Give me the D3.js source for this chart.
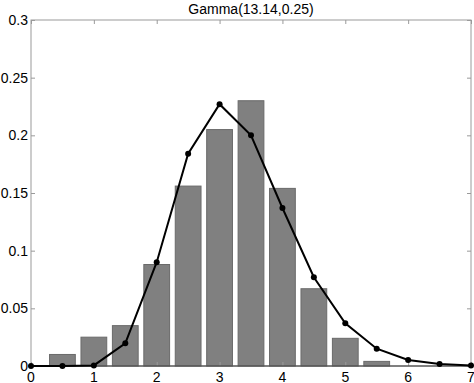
<!DOCTYPE html>
<html lang="en">
<head>
    <meta charset="UTF-8">
    <title>Gamma(13.14,0.25)</title>
    <script src="https://cdnjs.cloudflare.com/ajax/libs/d3/7.8.5/d3.min.js"></script>
    <style>
        body { margin: 0; background: #fff; }
        svg { display: block; font-family: Arial, "Liberation Sans", sans-serif; }
    </style>
</head>
<body>
    <svg id="chart" width="474" height="383"></svg>
    <script>
        // histogram bars (bin centres and heights)
        const barX = [0.5, 1, 1.5, 2, 2.5, 3, 3.5, 4, 4.5, 5, 5.5];
        const barY = [0.010, 0.025, 0.035, 0.088, 0.156, 0.205, 0.230, 0.154, 0.067, 0.024, 0.004];

        // fitted curve points
        const lineX = [0, 0.5, 1, 1.5, 2, 2.5, 3, 3.5, 4, 4.5, 5, 5.5, 6, 6.5, 7];
        const lineY = [0, 0, 0.0005, 0.0197, 0.090, 0.184, 0.227, 0.200, 0.137, 0.077, 0.037, 0.015, 0.0052, 0.0017, 0.0005];

        const xTicks = [0, 1, 2, 3, 4, 5, 6, 7];
        const yTicks = [0, 0.05, 0.1, 0.15, 0.2, 0.25, 0.3];
        const title = "Gamma(13.14,0.25)";

        const svg = d3.select("#chart");
        const margin = {top: 20, right: 3, bottom: 17, left: 31};
        const width = 474, height = 383;

        const x = d3.scaleLinear().domain([0, 7]).range([margin.left, width - margin.right]);
        const y = d3.scaleLinear().domain([0, 0.3]).range([height - margin.bottom, margin.top]);

        const barW = x(0.41) - x(0);

        // bars
        svg.selectAll(".bar")
            .data(barX)
            .enter().append("rect")
            .attr("class", "bar")
            .attr("x", d => x(d) - barW / 2)
            .attr("y", (d, i) => y(barY[i]))
            .attr("width", barW)
            .attr("height", (d, i) => y(0) - y(barY[i]))
            .attr("fill", "#808080")
            .attr("stroke", "#6a6a6a")
            .attr("stroke-width", 1);

        // box with inward ticks on all sides
        const tickLen = 4;
        const axisColor = "#9a9a9a";
        svg.append("rect")
            .attr("x", x(0)).attr("y", y(0.3))
            .attr("width", x(7) - x(0)).attr("height", y(0) - y(0.3))
            .attr("fill", "none").attr("stroke", axisColor).attr("stroke-width", 1);

        const bottomAxis = d3.axisBottom(x).tickValues(xTicks).tickSize(-tickLen).tickFormat("");
        const topAxis = d3.axisTop(x).tickValues(xTicks).tickSize(-tickLen).tickFormat("");
        const leftAxis = d3.axisLeft(y).tickValues(yTicks).tickSize(-tickLen).tickFormat("");
        const rightAxis = d3.axisRight(y).tickValues(yTicks).tickSize(-tickLen).tickFormat("");

        [[bottomAxis, `translate(0,${y(0)})`], [topAxis, `translate(0,${y(0.3)})`],
         [leftAxis, `translate(${x(0)},0)`], [rightAxis, `translate(${x(7)},0)`]].forEach(([ax, t]) => {
            const g = svg.append("g").attr("transform", t).call(ax);
            g.select(".domain").remove();
            g.selectAll("line").attr("stroke", axisColor);
        });

        // baseline
        svg.append("line")
            .attr("x1", x(0)).attr("x2", x(7))
            .attr("y1", y(0)).attr("y2", y(0))
            .attr("stroke", "#333").attr("stroke-width", 1);

        // tick labels
        svg.selectAll(".xlab")
            .data(xTicks)
            .enter().append("text")
            .attr("x", d => x(d))
            .attr("y", y(0) + 16)
            .attr("text-anchor", "middle")
            .attr("font-size", 14)
            .text(d => d);

        svg.selectAll(".ylab")
            .data(yTicks)
            .enter().append("text")
            .attr("x", x(0) - 3)
            .attr("y", d => y(d) + 5)
            .attr("text-anchor", "end")
            .attr("font-size", 14)
            .text(d => d);

        // curve
        const line = d3.line().x(d => x(d[0])).y(d => y(d[1]));
        const pts = lineX.map((d, i) => [d, lineY[i]]);
        svg.append("path")
            .datum(pts)
            .attr("d", line)
            .attr("fill", "none")
            .attr("stroke", "#000")
            .attr("stroke-width", 2);

        svg.selectAll(".dot")
            .data(pts)
            .enter().append("circle")
            .attr("cx", d => x(d[0]))
            .attr("cy", d => y(d[1]))
            .attr("r", 3)
            .attr("fill", "#000");

        // title
        svg.append("text")
            .attr("x", (x(0) + x(7)) / 2)
            .attr("y", 14)
            .attr("text-anchor", "middle")
            .attr("font-size", 14)
            .text(title);
    </script>
</body>
</html>
